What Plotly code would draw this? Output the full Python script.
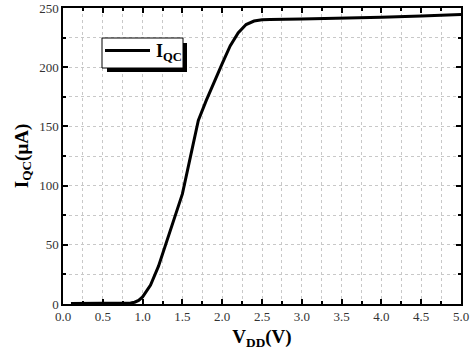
import plotly.graph_objects as go

vdd = [0.1, 0.3, 0.5, 0.7, 0.85, 0.9, 0.95, 1.0, 1.1, 1.2, 1.3, 1.4, 1.5, 1.6, 1.7,
       1.8, 1.9, 2.0, 2.1, 2.2, 2.3, 2.4, 2.5, 2.6, 3.0, 3.5, 4.0, 4.5, 5.0]
iqc = [0.5, 0.5, 0.5, 0.5, 0.8, 1.5, 3, 6, 16, 32, 53, 73, 93, 124, 155,
       172, 188, 203, 218, 229, 236, 239, 240, 240.3, 240.7, 241.3, 242.2, 243.3, 244.5]

series_name = "<b>I<sub>QC</sub></b>"
x_ticks = [0.0, 0.5, 1.0, 1.5, 2.0, 2.5, 3.0, 3.5, 4.0, 4.5, 5.0]
x_tick_labels = ["0.0", "0.5", "1.0", "1.5", "2.0", "2.5", "3.0", "3.5", "4.0", "4.5", "5.0"]
y_ticks = [0, 50, 100, 150, 200, 250]

font_family = "Liberation Serif, Times New Roman, serif"

W, H = 474, 364
L, R, T, B = 63, 13, 8, 60
PW, PH = W - L - R, H - T - B


def px_x(px):
    return (px - L) / PW


def px_y(py):
    return (H - B - py) / PH


fig = go.Figure()
fig.add_trace(go.Scatter(x=vdd, y=iqc, mode="lines", name=series_name,
                         line=dict(color="black", width=3), showlegend=False))

axis_common = dict(
    showline=True, linecolor="black", linewidth=1.5, mirror="ticks",
    ticks="inside", ticklen=5, tickwidth=1.5, tickcolor="black",
    showgrid=True, gridcolor="#c8c8c8", griddash="dot", gridwidth=1,
    zeroline=False, ticklabeloverflow="allow", automargin=False,
    tickfont=dict(family=font_family, size=13, color="#333333"),
)

fig.update_xaxes(range=[0, 5], tickvals=x_ticks, ticktext=x_tick_labels,
                 minor=dict(dtick=0.25, ticks="inside", ticklen=3, tickcolor="black",
                            showgrid=True, gridcolor="#c8c8c8", griddash="dot"),
                 title=dict(text="<b>V<sub>DD</sub>(V)</b>",
                            font=dict(family=font_family, size=19, color="black"),
                            standoff=6),
                 **axis_common)
fig.update_yaxes(range=[0, 250], tickvals=y_ticks,
                 minor=dict(dtick=25, ticks="inside", ticklen=3, tickcolor="black",
                            showgrid=True, gridcolor="#c8c8c8", griddash="dot"),
                 title=dict(text="<b>I<sub>QC</sub>(μA)</b>",
                            font=dict(family=font_family, size=19, color="black"),
                            standoff=6),
                 **axis_common)

# legend box with drop shadow
fig.add_shape(type="rect", xref="paper", yref="paper",
              x0=px_x(107), x1=px_x(187), y0=px_y(72), y1=px_y(43),
              fillcolor="black", line=dict(width=0), layer="above")
fig.add_shape(type="rect", xref="paper", yref="paper",
              x0=px_x(102), x1=px_x(183), y0=px_y(68), y1=px_y(38),
              fillcolor="white", line=dict(color="black", width=1), layer="above")
fig.add_shape(type="line", xref="paper", yref="paper",
              x0=px_x(105), x1=px_x(150), y0=px_y(50.5), y1=px_y(50.5),
              line=dict(color="black", width=3), layer="above")
fig.add_annotation(text=series_name, xref="paper", yref="paper",
                   x=px_x(154), y=px_y(52), xanchor="left", yanchor="middle",
                   showarrow=False,
                   font=dict(family=font_family, size=18, color="black"))

fig.update_layout(
    width=W, height=H,
    margin=dict(l=L, r=R, t=T, b=B),
    paper_bgcolor="white", plot_bgcolor="white",
    showlegend=False,
)

fig.write_html("out.html", config={"displayModeBar": False},
               post_script="document.body.style.margin='0';document.body.style.overflow='hidden';")
